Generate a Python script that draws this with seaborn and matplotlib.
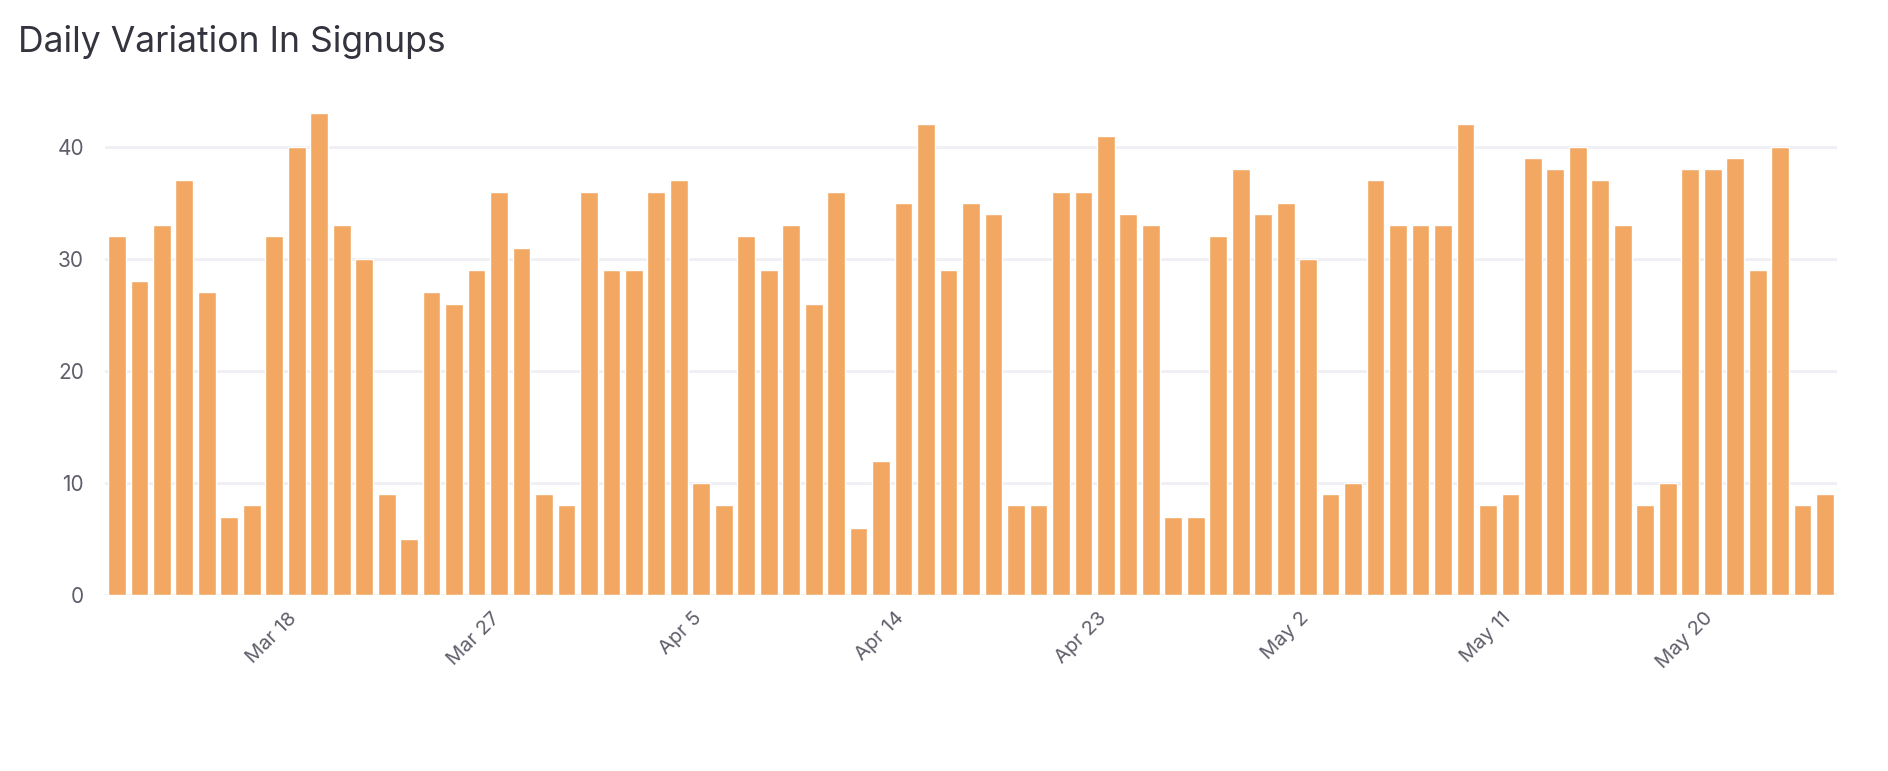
import matplotlib
matplotlib.use("Agg")
import matplotlib.pyplot as plt
import matplotlib.transforms as mtransforms
import seaborn as sns
import pandas as pd
import numpy as np

# ---- data ----
start_date = "2020-03-09"
signups = [32, 28, 33, 37, 27, 7, 8, 32, 40, 43, 33, 30, 9, 5,
           27, 26, 29, 36, 31, 9, 8, 36, 29, 29, 36, 37, 10, 8,
           32, 29, 33, 26, 36, 6, 12, 35, 42, 29, 35, 34, 8, 8,
           36, 36, 41, 34, 33, 7, 7, 32, 38, 34, 35, 30, 9, 10,
           37, 33, 33, 33, 42, 8, 9, 39, 38, 40, 37, 33, 8, 10,
           38, 38, 39, 29, 40, 8, 9]
dates = pd.date_range(start_date, periods=len(signups), freq="D")
y_ticks = [0, 10, 20, 30, 40]
title = "Daily Variation In Signups"

df = pd.DataFrame({"date": dates.strftime("%b %-d"), "signups": signups})

sns.set_theme(style="white")
plt.rcParams["font.family"] = ["Inter", "DejaVu Sans"]

fig = plt.figure(figsize=(18.88, 7.71), dpi=100)
ax = fig.add_axes([105 / 1888, 1 - 595 / 771, (1837 - 105) / 1888, (595 - 102) / 771])

sns.barplot(data=df, x="date", y="signups", color="#f2a863", width=0.79,
            saturation=1, ax=ax, zorder=3)

ax.set_ylim(0, 44)
ax.set_xlim(-0.53, len(signups) - 0.47)
ax.set_yticks(y_ticks)
ax.set_yticklabels([str(v) for v in y_ticks])
ax.yaxis.grid(True, color="#efeff4", linewidth=2, zorder=0)
ax.xaxis.grid(False)
for s in ax.spines.values():
    s.set_visible(False)

tick_pos = list(range(9, len(signups), 9))
ax.set_xticks(tick_pos)
ax.set_xticklabels([df["date"][i] for i in tick_pos])
ax.set_xlabel("")
ax.set_ylabel("")
ax.tick_params(axis="both", length=0, labelsize=14.5, labelcolor="#5f5f6b")
ax.tick_params(axis="y", labelsize=15, pad=15)
ax.tick_params(axis="x", pad=0)

offset = mtransforms.ScaledTranslation(-0.31, -0.14, fig.dpi_scale_trans)
for lbl in ax.get_xticklabels():
    lbl.set_rotation(45)
    lbl.set_ha("right")
    lbl.set_rotation_mode("anchor")
    lbl.set_transform(lbl.get_transform() + offset)

fig.text(18 / 1888, 1 - 52 / 771, title, fontsize=25.6, color="#34343f",
         ha="left", va="baseline")

fig.savefig("out.png", dpi=100, facecolor="white")
